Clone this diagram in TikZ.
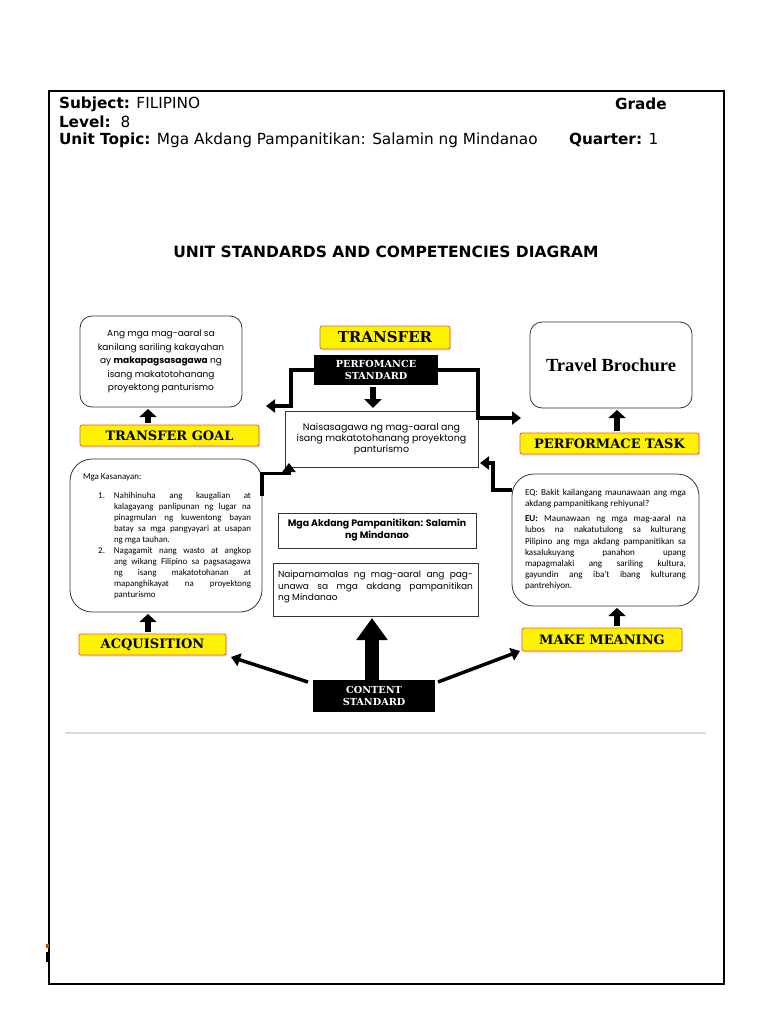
\documentclass[tikz,border=0pt]{standalone}
\usepackage{fontspec}
\setmainfont{DejaVu Sans}
\newfontfamily\gothic{Poppins}
\newfontfamily\calfont{Carlito}
\newfontfamily\lblfont{DejaVu Serif}
\newfontfamily\tnrfont{Liberation Serif}
\usetikzlibrary{arrows.meta,shadows,calc}
\begin{document}
\begin{tikzpicture}[x=1pt,y=-1pt,
 every node/.style={inner sep=0pt, outer sep=0pt},
 roundbox/.style={draw=black!80, line width=0.8pt, rounded corners=12pt},
 plainbox/.style={draw=black!80, line width=0.8pt},
 yellowbox/.style={fill=yellow, draw={rgb,255:red,235;green,90;blue,70}, line width=0.8pt, rounded corners=2pt,
   font=\lblfont\bfseries\fontsize{13}{13}\selectfont,
   drop shadow={opacity=0.25,shadow xshift=1pt,shadow yshift=-1.5pt}},
 blackbox/.style={fill=black, text=white, font=\lblfont\bfseries\fontsize{9.7}{12}\selectfont, align=center},
 smallup/.style={line width=6pt, -{Triangle[length=8pt,width=17pt]}, shorten <=2pt, shorten >=2pt},
 conn/.style={line width=3.5pt, -{Triangle[length=9pt,width=13pt]}, line join=miter},
 bigup/.style={line width=14pt, -{Triangle[length=22pt,width=30pt]}, shorten >=2pt},
 hdr/.style={anchor=west, font=\fontsize{15.3}{18}\selectfont},
 jtext/.style={anchor=north west, align=justify},
]
\fill[white] (0,0) rectangle (768,1024);
\useasboundingbox (0,0) rectangle (768,1024);
% page frame
\draw[line width=2pt] (49,91) rectangle (724,984);
\fill[orange!70!black] (46,944) rectangle (49,948);
\fill[black] (46,952) rectangle (49,962);

% header
\node[hdr] (subj) at (59,104) {\textbf{Subject:} FILIPINO};
\node[hdr] (grade) at (615,104) {\textbf{Grade}};
\node[hdr] (level) at (59,122) {\textbf{Level:}\ \ 8};
\node[hdr] (topic) at (59,140) {\textbf{Unit Topic:} Mga Akdang Pampanitikan: Salamin ng Mindanao};
\node[hdr] (quarter) at (569,140) {\textbf{Quarter:} 1};

% title
\node[font=\bfseries\fontsize{15.5}{18}\selectfont] (title) at (386,252) {UNIT STANDARDS AND COMPETENCIES DIAGRAM};

% left column
\node[roundbox, minimum width=162pt, minimum height=91pt, align=center,
  font=\gothic\fontsize{9}{13.5}\selectfont] (tlbox) at (161,361.5)
  {Ang mga mag-aaral sa\\ kanilang sariling kakayahan\\ ay \textbf{makapagsasagawa} ng\\ isang makatotohanang\\ proyektong panturismo};
\node[yellowbox, minimum width=179pt, minimum height=21pt] (tgoal) at (169.5,435.5) {TRANSFER GOAL};

\node[roundbox, rounded corners=22pt, minimum width=192pt, minimum height=153pt] (kas) at (166,535.5) {};
\node[jtext, text width=168pt, font=\calfont\fontsize{8.9}{11}\selectfont] (kastext) at (83,474)
 {Mga Kasanayan:\par\vspace{8pt}\leftskip=31pt
 \noindent\llap{1.\hspace{9pt}}Nahihinuha ang kaugalian at\linebreak kalagayang panlipunan ng lugar na\linebreak pinagmulan ng kuwentong bayan\linebreak batay sa mga pangyayari at usapan\linebreak ng mga tauhan.\par
 \noindent\llap{2.\hspace{9pt}}Nagagamit nang wasto at angkop\linebreak ang wikang Filipino sa pagsasagawa\linebreak ng isang makatotohanan at\linebreak mapanghikayat na proyektong\linebreak panturismo\par};
\node[yellowbox, minimum width=147pt, minimum height=21pt] (acq) at (152.5,644.5) {ACQUISITION};

% centre column
\node[yellowbox, minimum width=130pt, minimum height=23pt, font=\lblfont\bfseries\fontsize{15}{15}\selectfont] (transfer) at (385,337.5) {TRANSFER};
\node[blackbox, minimum width=124pt, minimum height=30pt] (perf) at (376,370) {PERFOMANCE\\STANDARD};
\node[plainbox, minimum width=193pt, minimum height=56pt, align=center,
  font=\gothic\fontsize{9.5}{11}\selectfont] (mid) at (381.5,439)
  {Naisasagawa ng mag-aaral ang\\ isang makatotohanang proyektong\\ panturismo};
\node[plainbox, minimum width=198pt, minimum height=35pt, align=center,
  font=\gothic\bfseries\fontsize{9.4}{12}\selectfont] (akdang) at (377,530.5)
  {Mga Akdang Pampanitikan: Salamin\\ ng Mindanao};
\node[plainbox, minimum width=205pt, minimum height=53pt] (naip) at (375.5,589.5) {};
\node[jtext, text width=195pt, font=\gothic\fontsize{9}{11.5}\selectfont] (naiptext) at (278,571)
  {Naipamamalas ng mag-aaral ang pag-\linebreak unawa sa mga akdang pampanitikan\linebreak ng Mindanao};
\node[blackbox, minimum width=122pt, minimum height=32pt] (content) at (374,696) {CONTENT\\STANDARD};

% right column
\node[roundbox, minimum width=162pt, minimum height=86pt,
  font=\tnrfont\bfseries\fontsize{18.5}{20}\selectfont] (travel) at (611,365) {Travel Brochure};
\node[yellowbox, minimum width=179pt, minimum height=21pt] (ptask) at (609.5,443.5) {PERFORMACE TASK};
\node[roundbox, rounded corners=22pt, minimum width=187pt, minimum height=132pt] (eq) at (605.5,540) {};
\node[jtext, text width=161pt, font=\calfont\fontsize{9.1}{11.2}\selectfont] (eqtext) at (525,489)
  {EQ: Bakit kailangang maunawaan ang mga\linebreak akdang pampanitikang rehiyunal?\par\vspace{4pt}
  \textbf{EU:} Maunawaan ng mga mag-aaral na\linebreak lubos na nakatutulong sa kulturang\linebreak Pilipino ang mga akdang pampanitikan sa\linebreak kasalukuyang panahon upang\linebreak mapagmalaki ang sariling kultura,\linebreak gayundin ang iba't ibang kulturang\linebreak pantrehiyon.\par};
\node[yellowbox, minimum width=160pt, minimum height=23pt] (make) at (602,639.5) {MAKE MEANING};

% connectors
\coordinate (tgl) at (266,406);
\coordinate (ptl) at (521,418);
\draw[smallup] ([xshift=-21.5pt]tgoal.north) -- ([xshift=-21.5pt]tgoal.north |- tlbox.south);
\draw[smallup] ([xshift=-4.5pt]acq.north) -- ([xshift=-4.5pt]acq.north |- kas.south);
\draw[smallup] ([xshift=7.5pt]ptask.north) -- ([xshift=7.5pt]ptask.north |- travel.south);
\draw[smallup] ([xshift=15pt]make.north) -- ([xshift=15pt]make.north |- eq.south);
\draw[line width=6pt, -{Triangle[length=9pt,width=17pt]}, shorten <=2pt, shorten >=3pt] ([xshift=-3pt]perf.south) -- ([xshift=-3pt]perf.south |- mid.north);
\draw[conn] (perf.west) -- ++(-23,0) |- (tgl);
\draw[conn] (perf.east) -| ($(mid.north east)+(0,7)$) -- (ptl);
\draw[conn] ([yshift=40pt]kas.east) -- ++(0,-22) -| ([xshift=4pt,yshift=4pt]mid.south west);
\draw[conn] ([yshift=50pt]eq.west) -- ++(-19,0) |- ([xshift=2pt,yshift=4pt]mid.south east);
\draw[bigup] ([xshift=-2pt]content.north) -- ([xshift=-2pt]content.north |- naip.south);
\draw[conn] ($(content.north west)+(-5,2)$) -- ($(acq.south east)+(5,2)$);
\draw[conn] ($(content.north east)+(3,2)$) -- ($(make.south west)+(-2,0)$);

% separator
\draw[black!15, line width=2pt] (65,733) -- (706,733);
\end{tikzpicture}
\end{document}
